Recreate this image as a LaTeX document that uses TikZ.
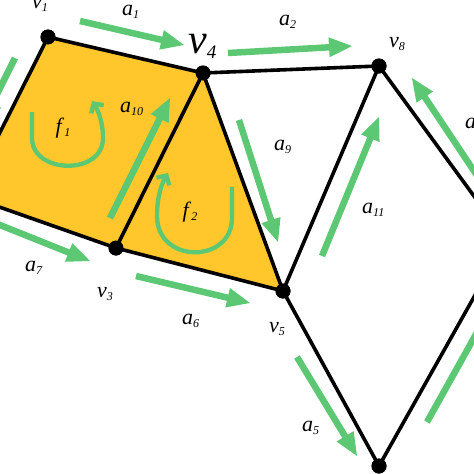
\documentclass[tikz,border=0pt]{standalone}
\usepackage{fontspec}
\setmainfont{Liberation Serif}
\usetikzlibrary{arrows.meta}
\definecolor{faceyellow}{RGB}{255,199,44}
\definecolor{arrgreen}{RGB}{92,200,115}
\newcommand{\lbl}[2]{\fontsize{22}{22}\selectfont\textit{#1}\raisebox{-3pt}{\fontsize{12}{12}\selectfont\textit{#2}}}
\tikzset{
  vtx/.style={circle,fill=black,inner sep=0pt,minimum size=15pt},
  edge/.style={line width=3.6pt,line cap=round},
  garrow/.style={arrgreen,line width=6.5pt,-{Triangle[length=24pt,width=18pt]},shorten >=-1pt},
  gloop/.style={arrgreen,line width=4.3pt,-{Straight Barb[length=7pt,width=15pt,line width=4.3pt]}},
  lab/.style={anchor=base west,inner sep=0pt},
}
\begin{document}
\begin{tikzpicture}[x=1pt,y=-1pt]
\useasboundingbox (0,0) rectangle (474,474);
\clip (0,0) rectangle (474,474);
% vertices
\node[vtx] (v1) at (48,37) {};
\node[vtx] (v4) at (203,73) {};
\node[vtx] (v8) at (379,66) {};
\node[vtx] (v3) at (116,248) {};
\node[vtx] (v5) at (283,291) {};
\node[vtx] (v6) at (379,466) {};
\coordinate (v2) at (-32,196);
\coordinate (v7) at (506,240);
% faces
\fill[faceyellow] (v1.center) -- (v4.center) -- (v3.center) -- (v2) -- cycle;
\fill[faceyellow] (v4.center) -- (v5.center) -- (v3.center) -- cycle;
% edges
\draw[edge] (v1.center) -- (v4.center);
\draw[edge] (v4.center) -- (v8.center);
\draw[edge] (v1.center) -- (v2);
\draw[edge] (v2) -- (v3.center);
\draw[edge] (v3.center) -- (v4.center);
\draw[edge] (v4.center) -- (v5.center);
\draw[edge] (v3.center) -- (v5.center);
\draw[edge] (v5.center) -- (v8.center);
\draw[edge] (v8.center) -- (v7);
\draw[edge] (v7) -- (v6.center);
\draw[edge] (v5.center) -- (v6.center);
% redraw dots on top
\foreach \n in {v1,v4,v8,v3,v5,v6} \fill (\n) circle (7.5pt);
% green direction arrows
\draw[garrow] (80,21) -- (184,45);
\draw[garrow] (228,53) -- (352,46);
\draw[garrow] (239,120) -- (278,242);
\draw[garrow] (110,218) -- (170,98);
\draw[garrow] (322,256) -- (379,117);
\draw[garrow] (482,183) -- (412,78);
\draw[garrow] (427,422) -- (494,302);
\draw[garrow] (297,357) -- (357,456);
\draw[garrow] (136,276) -- (250,303);
\draw[garrow] (-25,215) -- (90,261);
\draw[garrow] (15,58) -- (-18,124);
% face loops
\draw[gloop] (32,112) -- (32,138) .. controls (32,174) and (103,176) .. (103,138) .. controls (103,122) and (98,110) .. (92,101);
\draw[gloop] (232,187) -- (232,218) .. controls (232,264) and (157,264) .. (157,216) .. controls (157,196) and (162,183) .. (168,173);
% labels
\node[lab] (la1) at (122,15) {\lbl{a}{1}};
\node[lab] (lv1) at (32,8) {\lbl{v}{1}};
\node[lab] (lv4) at (188,53) {\fontsize{42}{42}\selectfont\textit{v}\raisebox{-5pt}{\fontsize{19}{19}\selectfont\textit{4}}};
\node[lab] (la2) at (279,25) {\lbl{a}{2}};
\node[lab] (lv8) at (389,47) {\lbl{v}{8}};
\node[lab] (la9) at (274,150) {\lbl{a}{9}};
\node[lab] (la10) at (120,112) {\lbl{a}{10}};
\node[lab] (la11) at (362,213) {\lbl{a}{11}};
\node[lab] (la3) at (465,128) {\lbl{a}{3}};
\node[lab] (la7) at (25,271) {\lbl{a}{7}};
\node[lab] (lv3) at (97,297) {\lbl{v}{3}};
\node[lab] (la6) at (182,324) {\lbl{a}{6}};
\node[lab] (lv5) at (269,332) {\lbl{v}{5}};
\node[lab] (la5) at (302,431) {\lbl{a}{5}};
\node (lf1) at (63,128) {\lbl{f}{1}};
\node (lf2) at (190,212) {\lbl{f}{2}};
\end{tikzpicture}
\end{document}
